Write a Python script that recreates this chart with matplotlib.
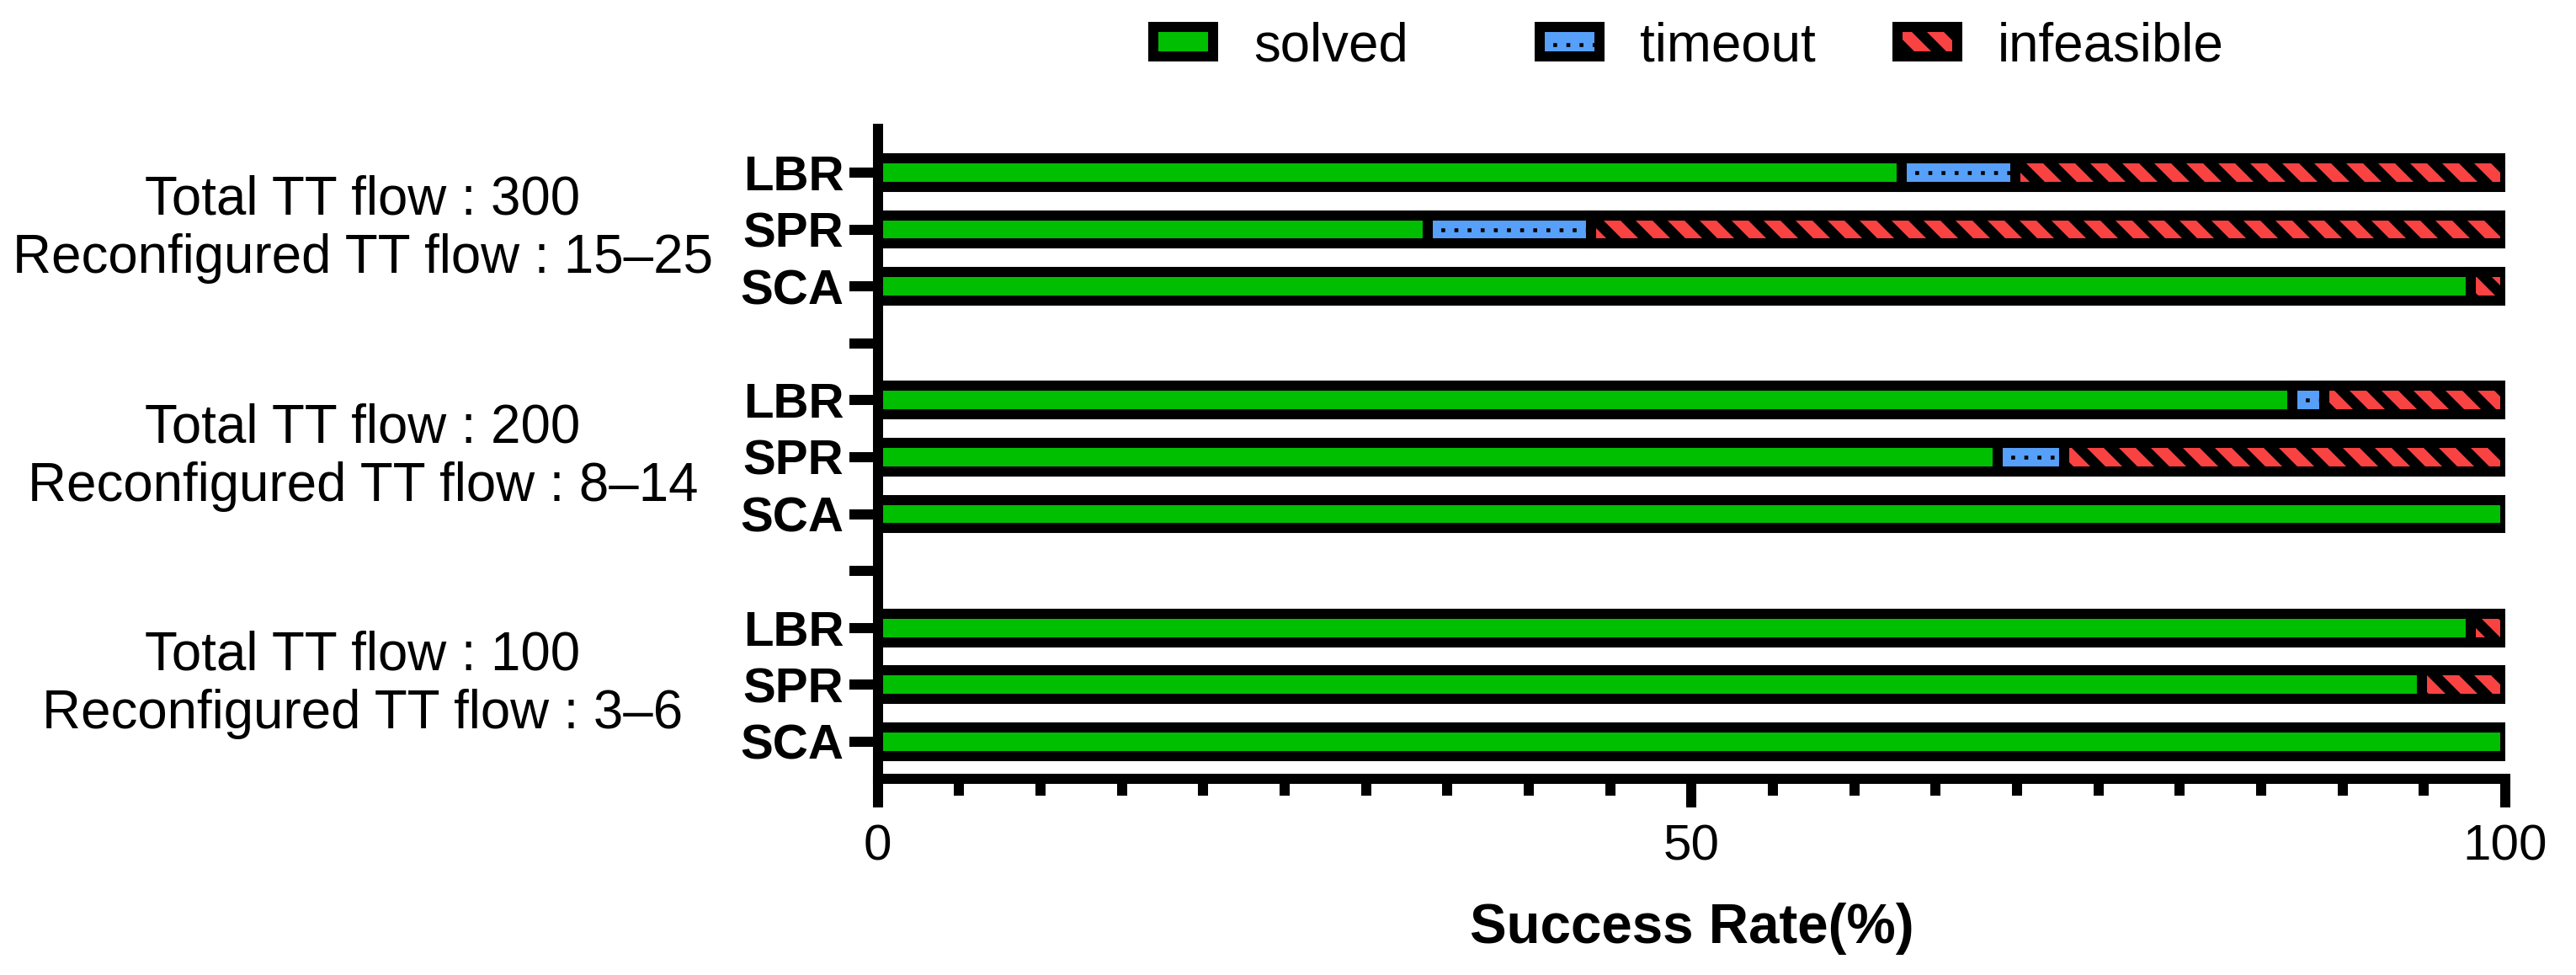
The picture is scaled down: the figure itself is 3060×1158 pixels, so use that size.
import numpy as np
import matplotlib
matplotlib.use("Agg")
import matplotlib.pyplot as plt
from matplotlib.patches import Patch
from matplotlib.lines import Line2D
from matplotlib.transforms import blended_transform_factory

# datos (de arriba hacia abajo)
metodos = ["LBR", "SPR", "SCA"]
grupos = ["Total TT flow : 300\nReconfigured TT flow : 15–25",
          "Total TT flow : 200\nReconfigured TT flow : 8–14",
          "Total TT flow : 100\nReconfigured TT flow : 3–6"]
solved = [62.9, 33.8, 97.9, 86.9, 68.8, 100.0, 97.9, 94.9, 100.0]
timeout = [7.0, 10.0, 0.0, 2.0, 4.1, 0.0, 0.0, 0.0, 0.0]
infeasible = [30.1, 56.2, 2.1, 11.1, 27.1, 0.0, 2.1, 5.1, 0.0]

verde = "#00bf00"
azul = "#57a0fa"
rojo = "#f94242"

DPI = 228
LW = 3.8
RAYADO = "\\\\"  # dos barras -> rayas mas juntas
plt.rcParams["font.family"] = ["Liberation Sans", "DejaVu Sans"]
plt.rcParams["hatch.linewidth"] = 4.0
plt.rcParams["hatch.color"] = "black"

fig = plt.figure(figsize=(3060 / DPI, 1158 / DPI), dpi=DPI)
ax = fig.add_axes([0.3408, 0.2008, 0.9725 - 0.3408, 0.8679 - 0.2008])

# posiciones: 3 barras por grupo + un hueco entre grupos
pos = []
for g in range(len(grupos)):
    for m in range(len(metodos)):
        pos.append(g * (len(metodos) + 1) + m)
pos = np.array(pos)
solved = np.array(solved)
timeout = np.array(timeout)
infeasible = np.array(infeasible)

h = 0.5
ax.barh(pos, solved, height=h, color=verde, edgecolor="black", linewidth=LW, zorder=2)
ax.barh(pos, timeout, left=solved, height=h, color=azul, edgecolor="black", linewidth=LW, zorder=2)
ax.barh(pos, infeasible, left=solved + timeout, height=h, color=rojo, edgecolor="black",
        linewidth=LW, hatch=RAYADO, zorder=2)
# linea punteada dentro de los timeout
for p, s, t in zip(pos, solved, timeout):
    if t > 0:
        ax.hlines(p, s, s + t, colors="black", linewidth=1.45, linestyles=(0, (1, 2.4)), zorder=3)

ax.set_xlim(0, 100)
ax.set_ylim(pos.max() + 0.66, -0.77)

todas = np.arange(0, pos.max() + 1)
etiquetas = []
for t in todas:
    if t in pos:
        etiquetas.append(metodos[int(t) % (len(metodos) + 1)])
    else:
        etiquetas.append("")
ax.set_yticks(todas)
ax.set_yticklabels(etiquetas, fontsize=18.4, fontweight="bold")

ax.set_xticks([0, 50, 100])
ax.set_xticks(np.arange(5, 100, 5), minor=True)
ax.tick_params(axis="x", which="major", labelsize=19, length=10.8, width=LW, pad=6)
ax.tick_params(axis="x", which="minor", length=6.3, width=LW)
ax.tick_params(axis="y", which="major", length=10.8, width=LW, pad=2)

for lado in ["top", "right"]:
    ax.spines[lado].set_visible(False)
for lado in ["left", "bottom"]:
    ax.spines[lado].set_linewidth(LW)

ax.set_xlabel("Success Rate(%)", fontsize=20.7, fontweight="bold", labelpad=12)

# etiquetas de grupo a la izquierda
tr = blended_transform_factory(fig.transFigure, ax.transData)
for g, texto in enumerate(grupos):
    ax.text(0.1408, g * (len(metodos) + 1) + 1, texto, transform=tr, ha="center", va="center",
            fontsize=20.1, linespacing=1.2)

# leyenda, tres entradas colocadas por separado
entradas = [
    (Patch(facecolor=verde, edgecolor="black", linewidth=LW), "solved", 0.4477),
    ((Patch(facecolor=azul, edgecolor="black", linewidth=LW),
      Line2D([], [], color="black", linewidth=1.45, linestyle=(0, (1, 2.4)))), "timeout", 0.5977),
    (Patch(facecolor=rojo, edgecolor="black", linewidth=LW, hatch=RAYADO), "infeasible", 0.7366),
]
for handle, nombre, xpos in entradas:
    fig.legend([handle], [nombre], loc="center left", bbox_to_anchor=(xpos, 0.952),
               frameon=False, borderpad=0, borderaxespad=0, fontsize=20.1,
               handlelength=1.12, handleheight=0.47, handletextpad=0.75)

fig.savefig("out.png", dpi=DPI)
